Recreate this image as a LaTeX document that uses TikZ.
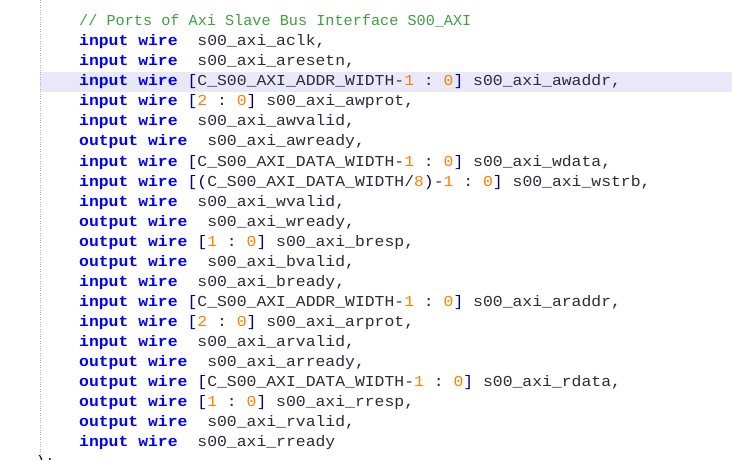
\documentclass[tikz,border=0pt]{standalone}
\usepackage{fontspec}
\usepackage{graphicx}
\setmonofont{Liberation Mono}
\definecolor{kw}{HTML}{0000FF}
\definecolor{cm}{HTML}{3F9F3F}
\definecolor{nm}{HTML}{FF8000}
\definecolor{br}{HTML}{000080}
\definecolor{tx}{HTML}{2B2B3B}
\definecolor{hl}{HTML}{E8E8F8}
\newcommand{\K}[1]{\textcolor{kw}{\bfseries #1}}
\newcommand{\N}[1]{\textcolor{nm}{#1}}
\newcommand{\B}[1]{\textcolor{br}{#1}}
\newcommand{\W}[1]{\scalebox{1.08}[1]{#1}}
\begin{document}
\begin{tikzpicture}[x=1pt,y=-1pt,
  ln/.style={anchor=base west,inner sep=0pt,font=\ttfamily\fontsize{15.2}{18}\selectfont,text=tx}]
\useasboundingbox (0,0) rectangle (732,460);
\fill[hl] (40,72) rectangle (732,92);
\draw[gray!60,dotted] (40,0) -- (40,460);
\begin{scope}
\clip (0,0) rectangle (732,460);
\node[ln] (l0) at (79,26) {\textcolor{cm}{// Ports of Axi Slave Bus Interface S00\_AXI}};
\node[ln] (l1) at (79,46) {\W{\K{input wire}~~s00\_axi\_aclk,}};
\node[ln] (l2) at (79,66) {\W{\K{input wire}~~s00\_axi\_aresetn,}};
\node[ln] (l3) at (79,86) {\W{\K{input wire}~\B{[}C\_S00\_AXI\_ADDR\_WIDTH-\N{1}~:~\N{0}\B{]}~s00\_axi\_awaddr,}};
\node[ln] (l4) at (79,106) {\W{\K{input wire}~\B{[}\N{2}~:~\N{0}\B{]}~s00\_axi\_awprot,}};
\node[ln] (l5) at (79,126) {\W{\K{input wire}~~s00\_axi\_awvalid,}};
\node[ln] (l6) at (79,146) {\W{\K{output wire}~~s00\_axi\_awready,}};
\node[ln] (l7) at (79,166) {\W{\K{input wire}~\B{[}C\_S00\_AXI\_DATA\_WIDTH-\N{1}~:~\N{0}\B{]}~s00\_axi\_wdata,}};
\node[ln] (l8) at (79,186) {\W{\K{input wire}~\B{[(}C\_S00\_AXI\_DATA\_WIDTH/\N{8}\B{)}-\N{1}~:~\N{0}\B{]}~s00\_axi\_wstrb,}};
\node[ln] (l9) at (79,206) {\W{\K{input wire}~~s00\_axi\_wvalid,}};
\node[ln] (l10) at (79,226) {\W{\K{output wire}~~s00\_axi\_wready,}};
\node[ln] (l11) at (79,246) {\W{\K{output wire}~\B{[}\N{1}~:~\N{0}\B{]}~s00\_axi\_bresp,}};
\node[ln] (l12) at (79,266) {\W{\K{output wire}~~s00\_axi\_bvalid,}};
\node[ln] (l13) at (79,286) {\W{\K{input wire}~~s00\_axi\_bready,}};
\node[ln] (l14) at (79,306) {\W{\K{input wire}~\B{[}C\_S00\_AXI\_ADDR\_WIDTH-\N{1}~:~\N{0}\B{]}~s00\_axi\_araddr,}};
\node[ln] (l15) at (79,326) {\W{\K{input wire}~\B{[}\N{2}~:~\N{0}\B{]}~s00\_axi\_arprot,}};
\node[ln] (l16) at (79,346) {\W{\K{input wire}~~s00\_axi\_arvalid,}};
\node[ln] (l17) at (79,366) {\W{\K{output wire}~~s00\_axi\_arready,}};
\node[ln] (l18) at (79,386) {\W{\K{output wire}~\B{[}C\_S00\_AXI\_DATA\_WIDTH-\N{1}~:~\N{0}\B{]}~s00\_axi\_rdata,}};
\node[ln] (l19) at (79,406) {\W{\K{output wire}~\B{[}\N{1}~:~\N{0}\B{]}~s00\_axi\_rresp,}};
\node[ln] (l20) at (79,426) {\W{\K{output wire}~~s00\_axi\_rvalid,}};
\node[ln] (l21) at (79,446) {\W{\K{input wire}~~s00\_axi\_rready}};
\node[ln] (l22) at (36,466) {\B{)};};
\end{scope}
\end{tikzpicture}
\end{document}
